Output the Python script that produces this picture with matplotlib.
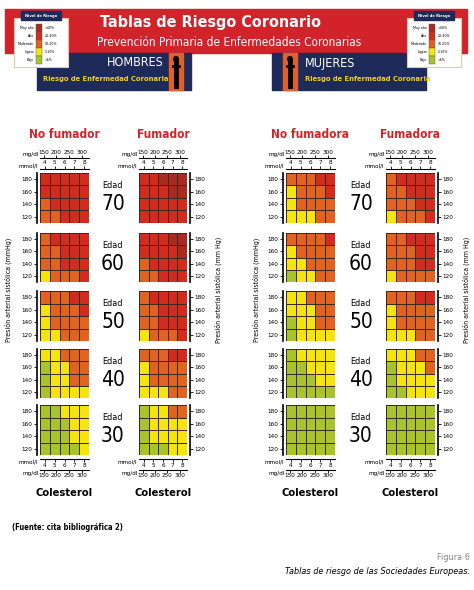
import matplotlib
matplotlib.use("Agg")
import matplotlib.pyplot as plt
import numpy as np
from matplotlib.colors import ListedColormap
from matplotlib.patches import Rectangle

plt.rcParams['font.family'] = ['DejaVu Sans']
plt.rcParams['font.stretch'] = 'condensed'

W, H = 474, 590
level_colors = ["#a9c42a", "#f6e50c", "#e2621f", "#d42b1f", "#a92a1f"]
level_names = ["Muy alto", "Alto", "Moderado", "Ligero", "Bajo"]
level_ranges = [">40%", "20-40%", "10-20%", "5-10%", "<5%"]
ages = [70, 60, 50, 40, 30]
sbp = [180, 160, 140, 120]
mmol = [4, 5, 6, 7, 8]
mgdl = [150, 200, 250, 300]

men_nonsmoker = {
    70: [[3,3,3,3,3],[3,3,3,3,3],[2,3,3,3,3],[2,2,3,3,3]],
    60: [[2,3,3,3,3],[2,2,3,3,3],[2,2,3,3,3],[1,2,2,2,3]],
    50: [[2,2,2,3,3],[1,2,2,2,3],[1,2,2,2,2],[1,1,2,2,2]],
    40: [[1,1,2,2,2],[0,1,1,2,2],[0,1,1,2,2],[0,1,1,1,1]],
    30: [[0,0,1,1,1],[0,0,0,1,1],[0,0,0,1,1],[0,0,0,0,1]],
}
men_smoker = {
    70: [[3,3,4,4,4],[3,3,3,4,4],[3,3,3,3,3],[3,3,3,3,3]],
    60: [[3,3,3,4,4],[3,3,3,3,4],[2,3,3,3,3],[2,2,3,3,3]],
    50: [[2,3,3,3,3],[2,2,3,3,3],[2,2,3,3,3],[1,2,2,2,3]],
    40: [[2,2,2,3,3],[1,2,2,2,2],[1,2,2,2,2],[1,1,1,2,2]],
    30: [[0,1,1,2,2],[0,1,1,1,1],[0,1,1,1,1],[0,0,0,1,1]],
}
women_nonsmoker = {
    70: [[2,2,2,3,3],[1,2,2,2,3],[1,2,2,2,2],[1,1,1,2,2]],
    60: [[2,2,2,2,3],[1,2,2,2,2],[1,1,2,2,2],[0,1,1,2,2]],
    50: [[1,1,2,2,2],[1,1,1,2,2],[0,1,1,2,2],[0,1,1,1,1]],
    40: [[0,1,1,1,1],[0,0,1,1,1],[0,0,0,1,1],[0,0,0,0,0]],
    30: [[0,0,0,0,0],[0,0,0,0,0],[0,0,0,0,0],[0,0,0,0,0]],
}
women_smoker = {
    70: [[2,3,3,3,3],[2,2,3,3,3],[2,2,2,3,3],[1,2,2,2,3]],
    60: [[2,2,3,3,3],[2,2,2,3,3],[2,2,2,3,3],[1,2,2,2,2]],
    50: [[2,2,2,3,3],[1,2,2,2,2],[1,2,2,2,2],[1,1,1,2,2]],
    40: [[1,1,1,2,2],[0,1,1,1,2],[0,1,1,1,1],[0,0,1,1,1]],
    30: [[0,0,0,0,0],[0,0,0,0,0],[0,0,0,0,0],[0,0,0,0,0]],
}

cmap = ListedColormap(level_colors)
fig = plt.figure(figsize=(W/100, H/100), dpi=100)
bg = fig.add_axes([0, 0, 1, 1])
bg.set_xlim(0, W); bg.set_ylim(H, 0); bg.axis("off")

def pax(x0, y0, x1, y1):
    return fig.add_axes([x0/W, 1-y1/H, (x1-x0)/W, (y1-y0)/H])

TS = 4.6

# Header
bg.add_patch(Rectangle((5, 9), 462, 44, color="#d2232a"))
bg.text(211, 23, "Tablas de Riesgo Coronario", color="white", fontsize=11.5, fontweight="bold", ha="center", va="center")
bg.text(229, 43, "Prevención Primaria de Enfermedades Coronarias", color="white", fontsize=8.5, ha="center", va="center")
for (x0, label, figx, tx) in [(37, "HOMBRES", 176, 135), (272, "MUJERES", 290, 330)]:
    bg.add_patch(Rectangle((x0, 53), 154, 37, color="#1e2a5a"))
    bg.add_patch(Rectangle((figx-7, 53), 14, 37, color="#e0602a"))
    bg.plot([figx, figx], [62, 86], color="black", lw=3.5)
    bg.plot([figx-3, figx+3], [66, 66], color="black", lw=2)
    bg.add_patch(plt.Circle((figx, 59), 2.3, color="black"))
    bg.text(tx, 63, label, color="white", fontsize=9, ha="center", va="center")
    bg.text(x0+6 if x0 == 37 else x0+33, 79, "Riesgo de Enfermedad Coronaria", color="#f0d020", fontsize=5.4, fontweight="bold", ha="left", va="center")
for lx in [14, 407]:
    bg.add_patch(Rectangle((lx, 18), 54, 49, facecolor="white", edgecolor="#e8c8a0", lw=0.8))
    bg.add_patch(Rectangle((lx+7, 11), 40, 9, color="#1e2a5a"))
    bg.text(lx+27, 15.5, "Nivel de Riesgo", color="white", fontsize=3, fontweight="bold", ha="center", va="center")
    for i in range(5):
        yy = 28 + i*8
        bg.add_patch(Rectangle((lx+22, yy-4), 6, 8, facecolor=level_colors[4-i], edgecolor="#555555", lw=0.3))
        bg.text(lx+20, yy, level_names[i], fontsize=2.6, ha="right", va="center")
        bg.text(lx+31, yy, level_ranges[i], fontsize=2.6, ha="left", va="center")

cols = [(40, 89, men_nonsmoker, "left"), (139, 187, men_smoker, "right"),
        (286, 335, women_nonsmoker, "left"), (386, 435, women_smoker, "right")]
rows = [(173, 223), (233, 282), (291, 341), (349, 398), (405, 455)]
titles = ["No fumador", "Fumador", "No fumadora", "Fumadora"]

for ci, (x0, x1, data, side) in enumerate(cols):
    bg.text((x0+x1)/2, 134, titles[ci], color="#d2232a", fontsize=8.5, fontweight="bold", ha="center", va="center")
    for ri, age in enumerate(ages):
        y0, y1 = rows[ri]
        ax = pax(x0, y0, x1, y1)
        arr = np.array(data[age])
        ax.pcolormesh(np.arange(6)+3.5, np.array([190, 170, 150, 130, 110]) * 1.0,
                      arr, cmap=cmap, vmin=-0.5, vmax=4.5, edgecolors="#3a2a20", linewidth=0.6)
        ax.set_xlim(3.5, 8.5); ax.set_ylim(110, 190)
        for s in ax.spines.values():
            s.set_visible(False)
        if side == "left":
            ax.spines["left"].set_visible(True)
            ax.spines["left"].set_position(("outward", 2))
            ax.spines["left"].set_linewidth(1.2)
        else:
            ax.spines["right"].set_visible(True)
            ax.spines["right"].set_position(("outward", 2))
            ax.spines["right"].set_linewidth(1.2)
            ax.yaxis.tick_right()
        ax.spines["top"].set_position(("outward", 3))
        ax.spines["bottom"].set_position(("outward", 3))
        ax.set_yticks(sbp)
        ax.set_yticklabels([str(v) for v in sbp])
        ax.tick_params(axis="y", length=2.5, width=0.6, pad=1, labelsize=TS)
        ax.set_xticks([])
        if ri == 0:
            ax.spines["top"].set_visible(True)
            ax.xaxis.tick_top(); ax.set_xticks(mmol)
            ax.set_xticklabels([str(m) for m in mmol])
            ax.tick_params(axis="x", length=2, pad=0.5, width=0.6, labelsize=TS)
            sec = ax.secondary_xaxis(1.3, functions=(lambda m: m*38.67, lambda c: c/38.67))
            sec.set_xticks(mgdl); sec.set_xticklabels([str(m) for m in mgdl])
            sec.tick_params(length=2, pad=0.5, width=0.6, labelsize=TS)
            ax.text(-0.03, 1.14, "mmol/l", transform=ax.transAxes, fontsize=TS, ha="right", va="center")
            ax.text(-0.03, 1.37, "mg/dl", transform=ax.transAxes, fontsize=TS, ha="right", va="center")
        if ri == 4:
            ax.spines["bottom"].set_visible(True)
            ax.set_xticks(mmol)
            ax.set_xticklabels([str(m) for m in mmol])
            ax.tick_params(axis="x", length=2, pad=0.5, width=0.6, labelsize=TS)
            sec = ax.secondary_xaxis(-0.3, functions=(lambda m: m*38.67, lambda c: c/38.67))
            sec.set_xticks(mgdl); sec.set_xticklabels([str(m) for m in mgdl])
            sec.tick_params(length=2, pad=0.5, width=0.6, labelsize=TS)
            ax.text(-0.03, -0.14, "mmol/l", transform=ax.transAxes, fontsize=TS, ha="right", va="center")
            ax.text(-0.03, -0.38, "mg/dl", transform=ax.transAxes, fontsize=TS, ha="right", va="center")
        if ci in (0, 2):
            cx = 113 if ci == 0 else 361
            bg.text(cx, y0+13, "Edad", fontsize=6.5, ha="center", va="center")
            bg.text(cx, y0+31, str(age), fontsize=15, ha="center", va="center")
    bg.text((x0+x1)/2, 493, "Colesterol", fontsize=8, fontweight="bold", ha="center", va="center")

for x, lab in [(8, "Presión arterial sistólica (mmHg)"), (218, "Presión arterial sistólica (mm Hg)"),
               (256, "Presión arterial sistólica (mmHg)"), (466, "Presión arterial sistólica (mm Hg)")]:
    bg.text(x, 290, lab, fontsize=5, rotation=90, ha="center", va="center")

bg.text(12, 528, "(Fuente: cita bibliográfica 2)", fontsize=5.5, fontweight="bold", ha="left", va="center")
bg.text(470, 558, "Figura 6", fontsize=6.5, color="#888888", ha="right", va="center")
bg.text(470, 571, "Tablas de riesgo de las Sociedades Europeas.", fontsize=6.5, style="italic", ha="right", va="center")

fig.savefig("out.png", dpi=100)
